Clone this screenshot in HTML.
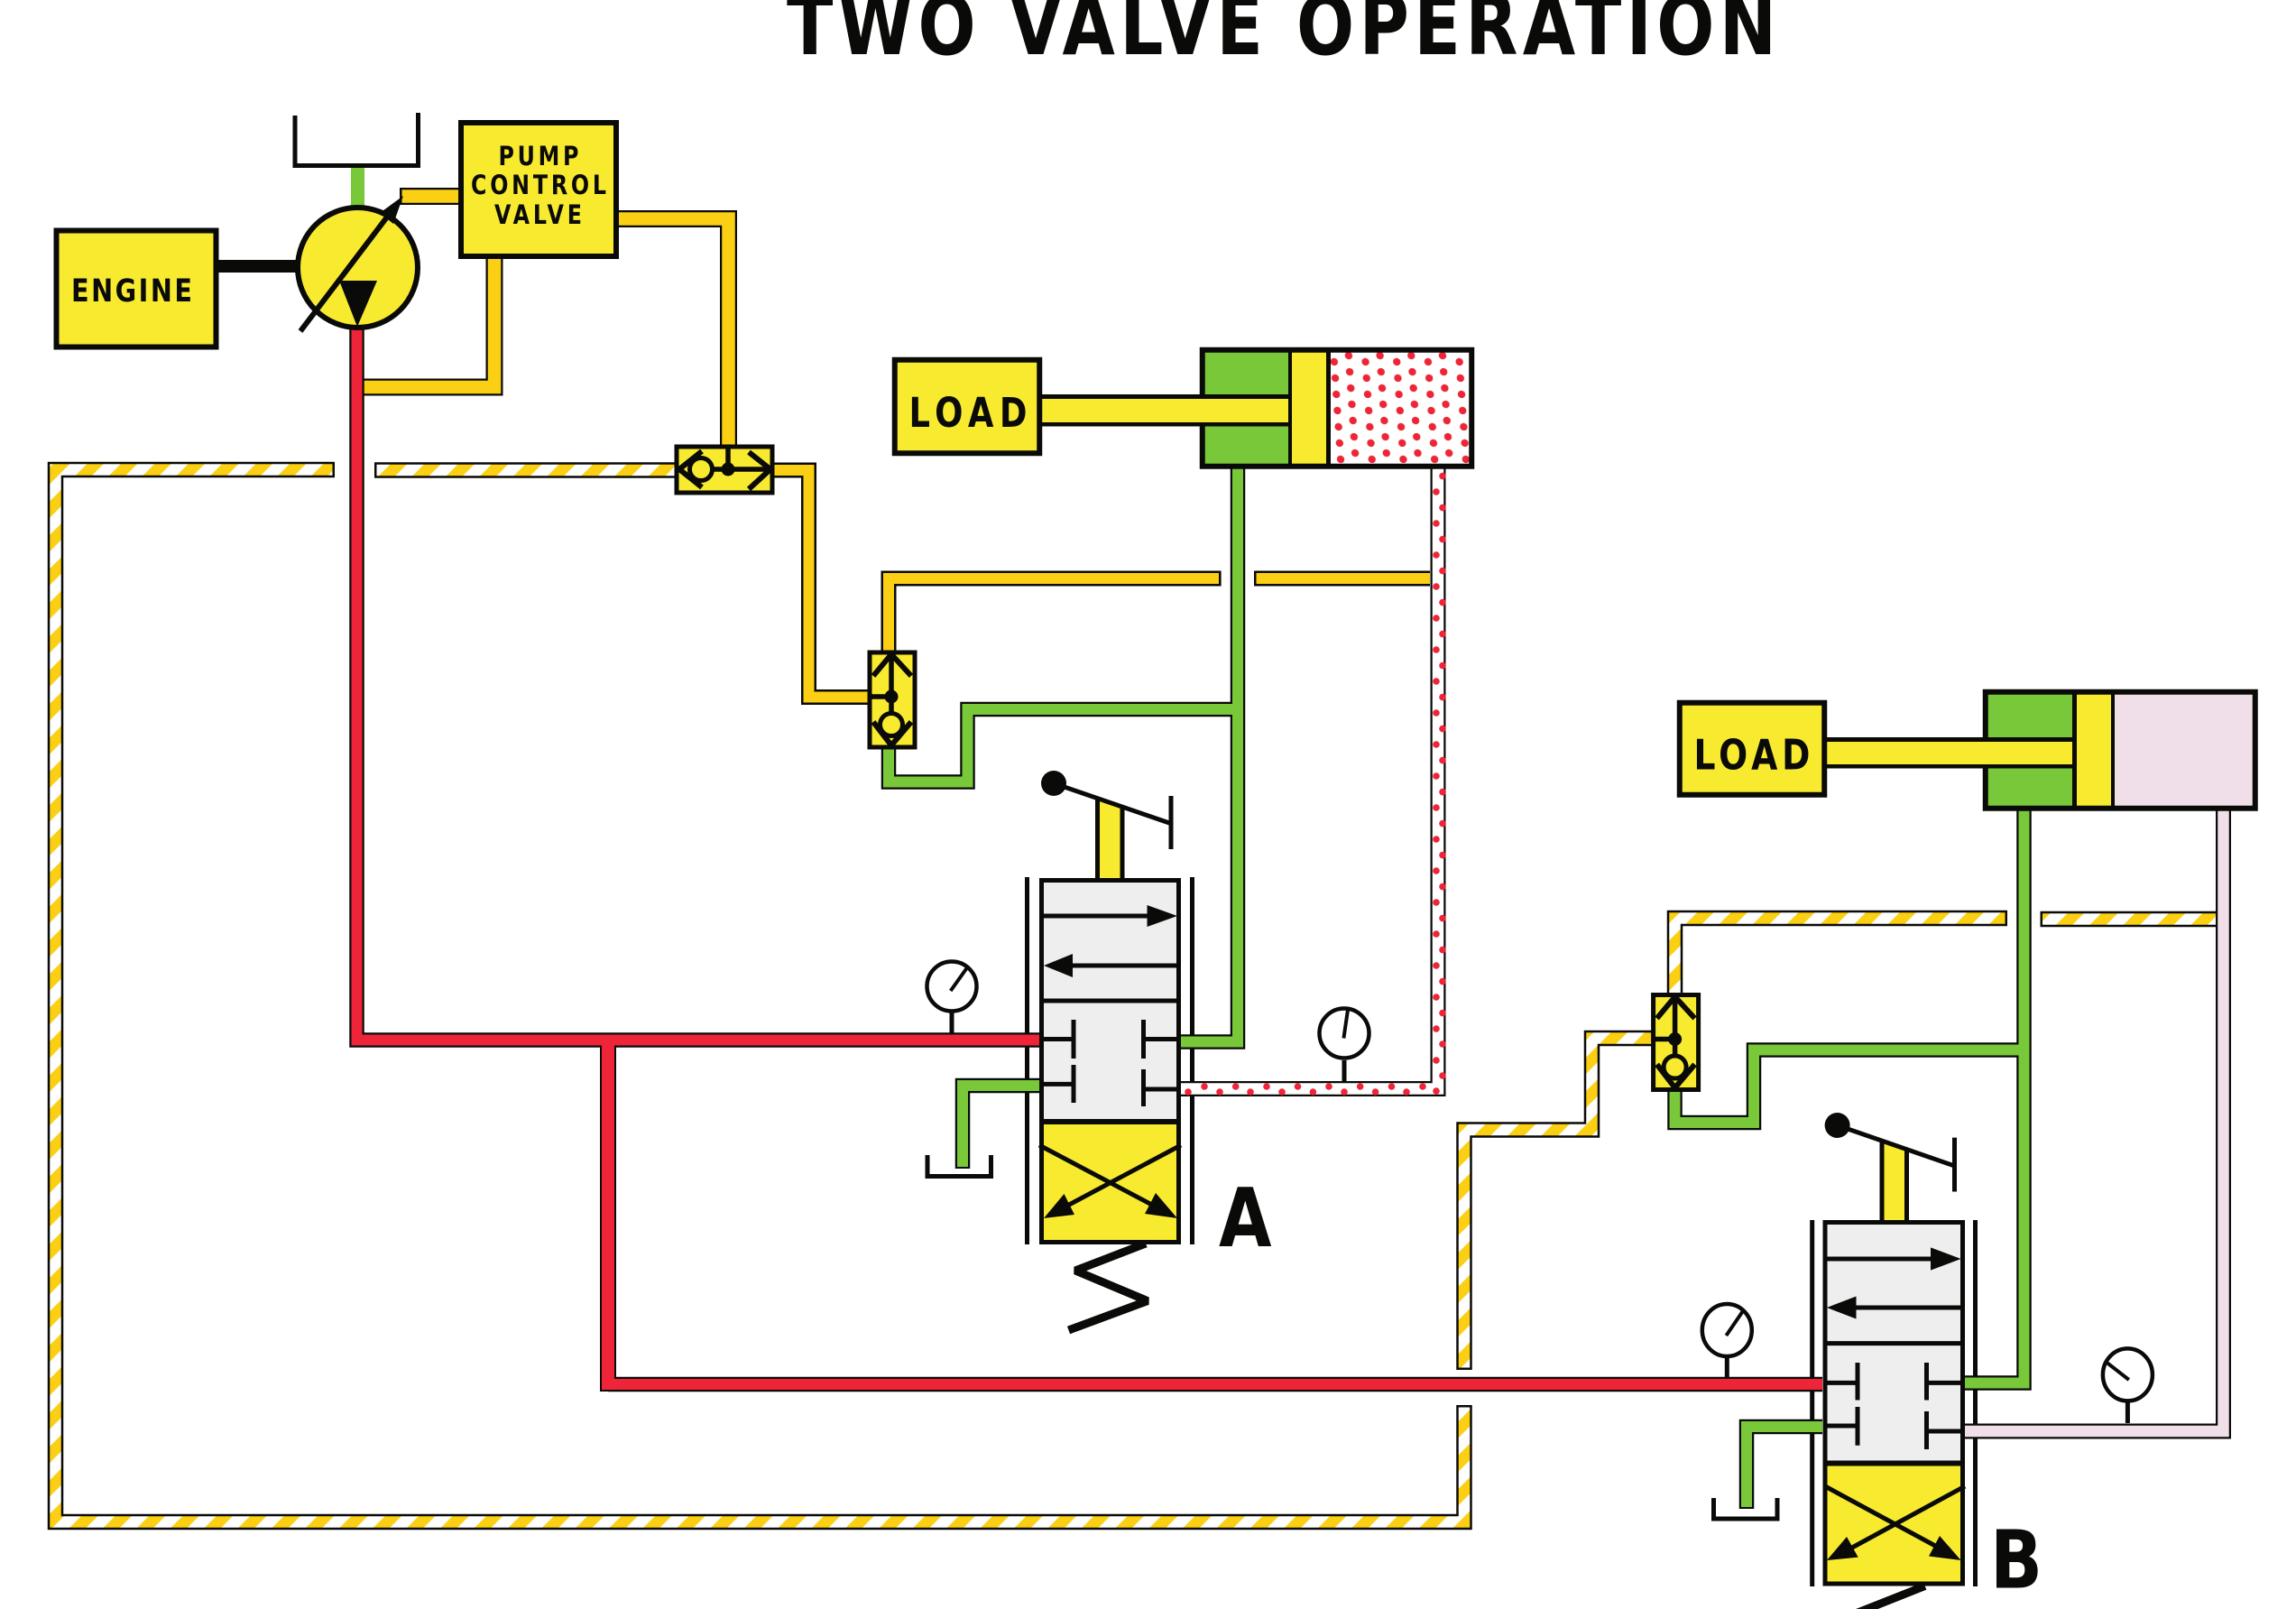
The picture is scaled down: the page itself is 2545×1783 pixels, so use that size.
<!DOCTYPE html>
<html>
<head>
<meta charset="utf-8">
<title>Two Valve Operation</title>
<style>
html,body{margin:0;padding:0;background:#fff;width:2545px;height:1783px;overflow:hidden}
svg{display:block}
text{font-family:"DejaVu Sans","Liberation Sans",sans-serif;font-weight:bold;fill:#0a0a08}
.p{fill:none;stroke-linejoin:miter;stroke-linecap:butt}
.k{stroke:#0a0a08}
.o{stroke:#fbd014}
.g{stroke:#78c83a}
.r{stroke:#ee2538}
.w{stroke:#fff}
.n{stroke:#f0dfe8}
.h{stroke:url(#hatch)}
.l{fill:none;stroke:#0a0a08;stroke-width:5}
.y{fill:#f8ea2f}
.d{fill:#ee2538}
</style>
</head>
<body>
<svg width="2545" height="1783" viewBox="0 0 2545 1783" xmlns="http://www.w3.org/2000/svg">
<defs>
<pattern id="hatch" patternUnits="userSpaceOnUse" width="26.45" height="26.45" patternTransform="rotate(45)">
<rect width="26.45" height="26.45" fill="#fff"/>
<rect x="8.5" width="13" height="26.45" fill="#fbd014"/>
</pattern>
<pattern id="dots" patternUnits="userSpaceOnUse" width="34.7" height="18" patternTransform="translate(1470,388) skewX(3.8)">
<circle cx="8" cy="13" r="4.2" fill="#ee2538"/>
<circle cx="24.5" cy="6" r="4.2" fill="#ee2538"/>
</pattern>
</defs>
<rect width="2545" height="1783" fill="#fff"/>

<text transform="translate(872,60) scale(.82,1)" font-size="92" textLength="1337.8" lengthAdjust="spacing">TWO VALVE OPERATION</text>

<!-- valve side rails (behind pipes) -->
<g class="l">
<path d="M1138.5,972V1379"/>
<path d="M1321.5,972V1379"/>
<path d="M2008.7,1352V1758"/>
<path d="M2189.5,1352V1758"/>
</g>

<!-- hatched pipes -->
<g class="p k" stroke-width="17.5">
<path d="M371,520.5H61.5V1686.5H1623V1557"/>
<path d="M749,521H415"/>
<path d="M1623,1518V1252H1764.5V1150.5H1831"/>
<path d="M1856.5,1100V1017.5H2225"/>
<path d="M2261.5,1018.5H2456.6"/>
</g>
<g class="p h" stroke-width="12.5">
<path d="M368.5,520.5H61.5V1686.5H1623V1559.5"/>
<path d="M749,521H417.5"/>
<path d="M1623,1515.5V1252H1764.5V1150.5H1831"/>
<path d="M1856.5,1100V1017.5H2222.5"/>
<path d="M2264,1018.5H2456.6"/>
</g>

<!-- orange pipes -->
<g class="p k" stroke-width="19">
<path d="M508,217.5H443"/>
<path d="M548,287V429H403"/>
<path d="M686,242.5H807.5V494"/>
</g>
<g class="p o" stroke-width="14.5">
<path d="M508,217.5H445.5"/>
<path d="M548,287V429H403"/>
<path d="M686,242.5H807.5V494"/>
</g>
<g class="p k" stroke-width="17">
<path d="M857,521H896.5V772.5H962"/>
<path d="M985,721V641H1353.6"/>
<path d="M1390,641H1585"/>
</g>
<g class="p o" stroke-width="12">
<path d="M857,521H896.5V772.5H962"/>
<path d="M985,721V641H1351"/>
<path d="M1392.5,641H1585"/>
</g>

<!-- tank top -->
<path class="l" d="M327,128V183.5H463.5V125"/>
<!-- green suction -->
<rect x="389" y="186" width="15" height="44" fill="#78c83a"/>

<!-- red pipes -->
<g class="p k" stroke-width="16.5">
<path d="M395.5,360V1152.5H1152"/>
<path d="M674,1534H2020"/>
</g>
<path class="p k" stroke-width="18" d="M674,1152.5V1542"/>
<g class="p r" stroke-width="12">
<path d="M395.5,360V1152.5H1152"/>
<path d="M674,1534H2020"/>
</g>
<path class="p r" stroke-width="14" d="M674,1152.5V1540"/>

<!-- green pipes -->
<g class="p k" stroke-width="16.5">
<path d="M1372,519V1154.5H1309"/>
<path d="M1372,786H1072.5V866.5H985V830"/>
<path d="M1152,1203H1067V1295"/>
<path d="M2243.5,898V1532.5H2178"/>
<path d="M2243.5,1163.5H1944V1244H1856.5V1209"/>
<path d="M2020,1581H1936V1672"/>
</g>
<g class="p g" stroke-width="12">
<path d="M1372,519V1154.5H1309"/>
<path d="M1372,786H1072.5V866.5H985V830"/>
<path d="M1152,1203H1067V1293"/>
<path d="M2243.5,898V1532.5H2178"/>
<path d="M2243.5,1163.5H1944V1244H1856.5V1209"/>
<path d="M2020,1581H1936V1670"/>
</g>

<!-- dotted return pipe A -->
<path class="p k" stroke-width="17" d="M1594,519V1206.5H1309"/>
<path class="p w" stroke-width="12.5" d="M1594,519V1206.5H1309"/>
<g class="d">
<circle cx="1592" cy="545" r="3.8"/><circle cx="1592" cy="580" r="3.8"/><circle cx="1592" cy="615" r="3.8"/><circle cx="1592" cy="650" r="3.8"/><circle cx="1592" cy="685" r="3.8"/><circle cx="1592" cy="720" r="3.8"/><circle cx="1592" cy="755" r="3.8"/><circle cx="1592" cy="790" r="3.8"/><circle cx="1592" cy="825" r="3.8"/><circle cx="1592" cy="860" r="3.8"/><circle cx="1592" cy="895" r="3.8"/><circle cx="1592" cy="930" r="3.8"/><circle cx="1592" cy="965" r="3.8"/><circle cx="1592" cy="1000" r="3.8"/><circle cx="1592" cy="1035" r="3.8"/><circle cx="1592" cy="1070" r="3.8"/><circle cx="1592" cy="1105" r="3.8"/><circle cx="1592" cy="1140" r="3.8"/><circle cx="1592" cy="1175" r="3.8"/><circle cx="1592" cy="1209" r="3.8"/>
<circle cx="1599" cy="527.6" r="3.8"/><circle cx="1599" cy="562.6" r="3.8"/><circle cx="1599" cy="597.6" r="3.8"/><circle cx="1599" cy="632.6" r="3.8"/><circle cx="1599" cy="667.6" r="3.8"/><circle cx="1599" cy="702.6" r="3.8"/><circle cx="1599" cy="737.6" r="3.8"/><circle cx="1599" cy="772.6" r="3.8"/><circle cx="1599" cy="807.6" r="3.8"/><circle cx="1599" cy="842.6" r="3.8"/><circle cx="1599" cy="877.6" r="3.8"/><circle cx="1599" cy="912.6" r="3.8"/><circle cx="1599" cy="947.6" r="3.8"/><circle cx="1599" cy="982.6" r="3.8"/><circle cx="1599" cy="1017.6" r="3.8"/><circle cx="1599" cy="1052.6" r="3.8"/><circle cx="1599" cy="1087.6" r="3.8"/><circle cx="1599" cy="1122.6" r="3.8"/><circle cx="1599" cy="1157" r="3.8"/><circle cx="1599" cy="1192" r="3.8"/>
<circle cx="1577" cy="1204" r="3.8"/><circle cx="1542.5" cy="1204" r="3.8"/><circle cx="1507.7" cy="1204" r="3.8"/><circle cx="1473" cy="1204" r="3.8"/><circle cx="1438.5" cy="1204" r="3.8"/><circle cx="1404" cy="1204" r="3.8"/><circle cx="1369.7" cy="1204" r="3.8"/><circle cx="1335" cy="1204" r="3.8"/>
<circle cx="1559" cy="1210" r="3.8"/><circle cx="1524.6" cy="1210" r="3.8"/><circle cx="1490" cy="1210" r="3.8"/><circle cx="1455.4" cy="1210" r="3.8"/><circle cx="1421" cy="1210" r="3.8"/><circle cx="1386" cy="1210" r="3.8"/><circle cx="1352" cy="1210" r="3.8"/><circle cx="1317" cy="1210" r="3.8"/>
</g>

<!-- pink return pipe B -->
<path class="p k" stroke-width="17" d="M2464.5,898V1586H2178"/>
<path class="p n" stroke-width="12.5" d="M2464.5,898V1586H2178"/>

<!-- engine, pump, control valve -->
<rect x="240" y="288" width="92" height="14" fill="#0a0a08"/>
<rect x="62.5" y="255.5" width="177" height="129" class="y" stroke="#0a0a08" stroke-width="6"/>
<text transform="translate(79,334) scale(.82,1)" font-size="35" textLength="163.4" lengthAdjust="spacing">ENGINE</text>
<circle cx="396.5" cy="296.5" r="66.5" class="y" stroke="#0a0a08" stroke-width="6"/>
<polygon points="376,311 418,311 396,362" fill="#0a0a08"/>
<line x1="333" y1="367" x2="440" y2="226" stroke="#0a0a08" stroke-width="6"/>
<polygon points="447,217 421,236 436,248" fill="#0a0a08"/>
<rect x="511" y="136" width="172" height="148" class="y" stroke="#0a0a08" stroke-width="6"/>
<text transform="translate(552.5,183) scale(.82,1)" font-size="29" textLength="108.5" lengthAdjust="spacing">PUMP</text>
<text transform="translate(522,215) scale(.82,1)" font-size="29" textLength="183" lengthAdjust="spacing">CONTROL</text>
<text transform="translate(548,248) scale(.82,1)" font-size="29" textLength="118.3" lengthAdjust="spacing">VALVE</text>

<!-- shuttle valve top -->
<rect x="750" y="495" width="106" height="51" class="y" stroke="#0a0a08" stroke-width="5"/>
<g class="l" stroke-width="6">
<path d="M789,520H855" style="stroke-width:5.5"/>
<path d="M807,495V520" style="stroke-width:5.5"/>
<path d="M778,500L753,520L778,540" style="stroke-width:6"/>
<path d="M830,501L854,520L830,542" style="stroke-width:6"/>
<circle cx="777" cy="520" r="12.5" fill="#f8ea2f"/>
</g>
<circle cx="807" cy="520" r="7.5" fill="#0a0a08"/>

<!-- shuttle valve A and B -->
<g>
<rect x="964" y="723" width="50" height="105" class="y" stroke="#0a0a08" stroke-width="5"/>
<g class="l">
<path d="M988,726V790" style="stroke-width:5.5"/>
<path d="M968,749L988,725L1010,749" style="stroke-width:6"/>
<path d="M964,772H988" style="stroke-width:5.5"/>
<path d="M968,800L988,826L1010,800" style="stroke-width:6"/>
<circle cx="988" cy="803" r="12.5" fill="#f8ea2f"/>
</g>
<circle cx="988" cy="772" r="7.5" fill="#0a0a08"/>
</g>
<g transform="translate(868.6,379.5)">
<rect x="964" y="723" width="50" height="105" class="y" stroke="#0a0a08" stroke-width="5"/>
<g class="l">
<path d="M988,726V790" style="stroke-width:5.5"/>
<path d="M968,749L988,725L1010,749" style="stroke-width:6"/>
<path d="M964,772H988" style="stroke-width:5.5"/>
<path d="M968,800L988,826L1010,800" style="stroke-width:6"/>
<circle cx="988" cy="803" r="12.5" fill="#f8ea2f"/>
</g>
<circle cx="988" cy="772" r="7.5" fill="#0a0a08"/>
</g>

<!-- load A and cylinder A -->
<rect x="1330" y="385" width="304" height="134.5" fill="#fff"/>
<rect x="1475" y="390" width="155" height="125" fill="url(#dots)"/>
<rect x="1334" y="389" width="96" height="127" fill="#78c83a"/>
<rect x="1432" y="389" width="38" height="127" class="y"/>
<rect x="1428" y="387" width="4" height="130" fill="#0a0a08"/>
<rect x="1470" y="387" width="5" height="130" fill="#0a0a08"/>
<rect x="1332.75" y="387.75" width="298.5" height="129" fill="none" stroke="#0a0a08" stroke-width="6"/>
<rect x="1155" y="437" width="273" height="35.5" fill="#0a0a08"/>
<rect x="1155" y="442" width="273" height="26" class="y"/>
<rect x="991.75" y="398.75" width="160.5" height="103.5" class="y" stroke="#0a0a08" stroke-width="6"/>
<text transform="translate(1007.5,473) scale(.82,1)" font-size="45" textLength="159.8" lengthAdjust="spacing">LOAD</text>

<!-- load B and cylinder B -->
<rect x="2202" y="768" width="95" height="127" fill="#78c83a"/>
<rect x="2302" y="768" width="38" height="127" class="y"/>
<rect x="2344" y="768" width="155" height="127" fill="#f0dfe8"/>
<rect x="2297" y="766" width="5" height="130" fill="#0a0a08"/>
<rect x="2340" y="766" width="4" height="130" fill="#0a0a08"/>
<rect x="2200.75" y="766.75" width="299" height="129" fill="none" stroke="#0a0a08" stroke-width="6"/>
<rect x="2025" y="817" width="272" height="34.5" fill="#0a0a08"/>
<rect x="2025" y="822" width="272" height="25" class="y"/>
<rect x="1861.75" y="778.75" width="160.5" height="102" class="y" stroke="#0a0a08" stroke-width="6"/>
<text transform="translate(1877.5,852.5) scale(.82,1)" font-size="46" textLength="157.3" lengthAdjust="spacing">LOAD</text>

<!-- valve A -->
<polygon points="1216,884.5 1244,894 1244,973 1216,973" class="y"/>
<g class="l">
<path d="M1216.5,884V973"/>
<path d="M1244,893V973"/>
<path d="M1168,868L1298,912.6"/>
<path d="M1298,882V941"/>
</g>
<rect x="1154.5" y="975.5" width="152" height="268" fill="#eeeeee"/>
<rect x="1154.5" y="1243" width="152" height="133.5" class="y"/>
<circle cx="1168" cy="868" r="14" fill="#0a0a08"/>
<g class="l">
<rect x="1154.5" y="975.5" width="152" height="401"/>
<path d="M1154,1109H1307"/>
<path d="M1154,1243H1307" style="stroke-width:6"/>
<path d="M1157,1015H1275"/>
<path d="M1185,1070H1305"/>
<path d="M1157,1151.5H1190M1190,1130V1173"/>
<path d="M1157,1201.4H1190M1190,1180V1222"/>
<path d="M1267.5,1130V1173M1267.5,1151.5H1305"/>
<path d="M1267.5,1185V1226M1267.5,1207H1305"/>
<path d="M1152,1269L1290,1342"/>
<path d="M1309,1269L1170,1343"/>
</g>
<polygon points="1305,1015 1271.5,1003 1271.5,1027" fill="#0a0a08"/>
<polygon points="1157,1070 1189,1057 1189,1083" fill="#0a0a08"/>
<polygon points="1305,1350 1281,1322 1269,1345" fill="#0a0a08"/>
<polygon points="1157,1350 1179.5,1323 1191,1346" fill="#0a0a08"/>
<path d="M1270,1378L1192,1408L1272,1441.6L1184.5,1474" fill="none" stroke="#0a0a08" stroke-width="9" stroke-linejoin="bevel"/>
<text x="1351" y="1381" font-size="90" textLength="58.5" lengthAdjust="spacingAndGlyphs">A</text>
<!-- gauges A -->
<path class="l" d="M1055,1122V1145"/>
<circle cx="1055" cy="1093" r="27.5" fill="#fff" stroke="#0a0a08" stroke-width="4.5"/>
<path class="l" style="stroke-width:4" d="M1053.7,1098L1071.5,1073"/>
<path class="l" d="M1490,1175V1198"/>
<circle cx="1490" cy="1145" r="27.5" fill="#fff" stroke="#0a0a08" stroke-width="4.5"/>
<path class="l" style="stroke-width:4" d="M1489.4,1150.5L1494,1119"/>
<!-- drain tank A -->
<path class="l" d="M1028,1280V1303.5H1098.5V1280"/>

<!-- valve B -->
<polygon points="2086,1264 2113.5,1273.5 2113.5,1352 2086,1352" class="y"/>
<g class="l">
<path d="M2086,1263V1352"/>
<path d="M2113.5,1272V1352"/>
<path d="M2036.6,1247L2166.5,1292"/>
<path d="M2166.5,1260.6V1320.5"/>
</g>
<rect x="2023" y="1354.5" width="152.5" height="267" fill="#eeeeee"/>
<rect x="2023" y="1621.5" width="152.5" height="133.5" class="y"/>
<circle cx="2036.6" cy="1247" r="14" fill="#0a0a08"/>
<g class="l">
<rect x="2023" y="1354.5" width="152.5" height="400.5"/>
<path d="M2022,1488.6H2176"/>
<path d="M2022,1621.5H2176" style="stroke-width:6"/>
<path d="M2025,1395H2145"/>
<path d="M2055,1449H2174"/>
<path d="M2025,1532.4H2059M2059,1510V1551.5"/>
<path d="M2025,1580H2059M2059,1559V1601.7"/>
<path d="M2135.5,1510V1551.5M2135.5,1532.4H2174"/>
<path d="M2135.5,1564V1606M2135.5,1586H2174"/>
<path d="M2023,1647L2160,1721"/>
<path d="M2178,1647L2040,1722"/>
</g>
<polygon points="2173.6,1395 2140,1382.4 2140,1407.6" fill="#0a0a08"/>
<polygon points="2025,1449 2057.5,1436.5 2057.5,1461.5" fill="#0a0a08"/>
<polygon points="2173.6,1729 2150,1702 2138,1724.5" fill="#0a0a08"/>
<polygon points="2025,1729 2047,1703 2059.7,1725.6" fill="#0a0a08"/>
<path d="M2133.7,1757.5L2051.7,1790" fill="none" stroke="#0a0a08" stroke-width="9"/>
<text x="2206" y="1759.7" font-size="89" textLength="58" lengthAdjust="spacingAndGlyphs">B</text>
<!-- gauges B -->
<path class="l" d="M1914.3,1505V1526"/>
<ellipse cx="1914.3" cy="1474" rx="27.5" ry="29" fill="#fff" stroke="#0a0a08" stroke-width="4.5"/>
<path class="l" style="stroke-width:4" d="M1913.4,1480L1932,1452.7"/>
<path class="l" d="M2358.4,1552V1577"/>
<ellipse cx="2358.4" cy="1523.4" rx="27.5" ry="29" fill="#fff" stroke="#0a0a08" stroke-width="4.5"/>
<path class="l" style="stroke-width:4" d="M2359.8,1529L2335.4,1510"/>
<!-- drain tank B -->
<path class="l" d="M1899.5,1660V1683H1970V1660"/>
</svg>
</body>
</html>
